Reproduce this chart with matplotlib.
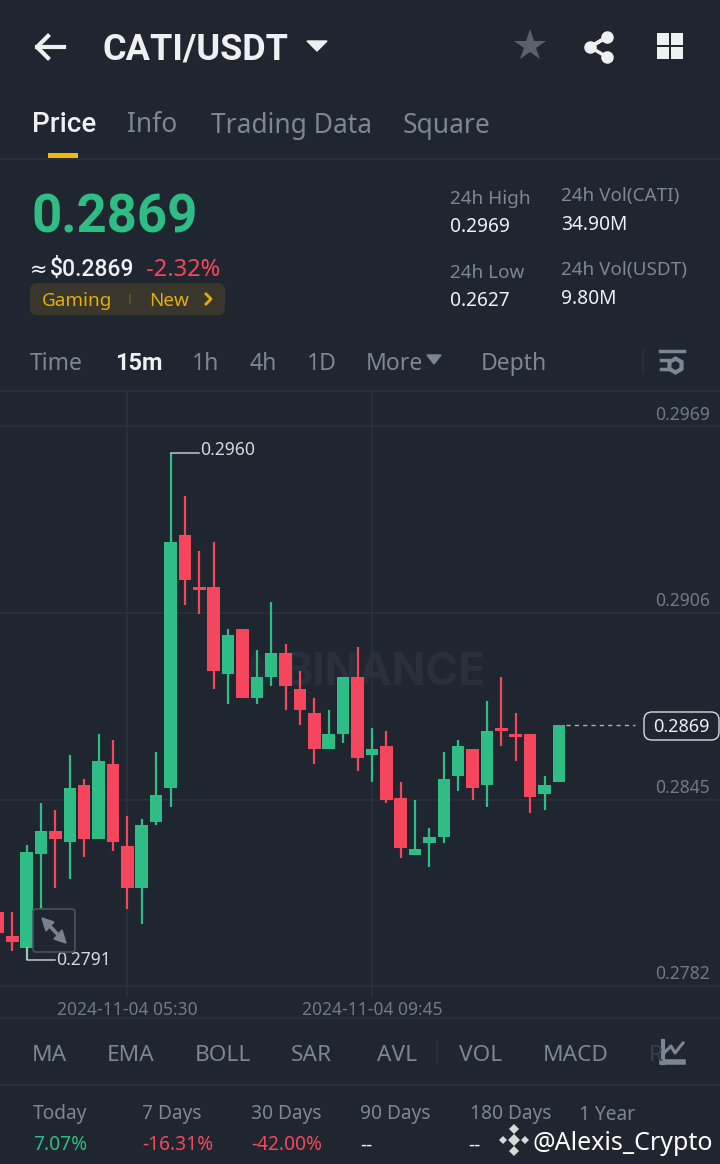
import matplotlib
matplotlib.use("Agg")
import matplotlib.pyplot as plt
from matplotlib.patches import FancyBboxPatch, Rectangle
from matplotlib.transforms import ScaledTranslation

# candles (15m)
opens = [0.28066, 0.27986, 0.27945, 0.28260, 0.28338, 0.28300, 0.28490, 0.28310, 0.28560, 0.28286,
         0.28146, 0.28367, 0.28480, 0.29326, 0.29152, 0.29152, 0.28861, 0.29012, 0.28781, 0.28851,
         0.28931, 0.28811, 0.28731, 0.28611, 0.28661, 0.28851, 0.28590, 0.28621, 0.28447, 0.28256,
         0.28296, 0.28316, 0.28520, 0.28611, 0.28490, 0.28681, 0.28661, 0.28661, 0.28460, 0.28500]
highs = [0.28066, 0.28066, 0.28290, 0.28430, 0.28407, 0.28590, 0.28510, 0.28661, 0.28641, 0.28387,
         0.28377, 0.28601, 0.29600, 0.29456, 0.29272, 0.29302, 0.29012, 0.29012, 0.28941, 0.29102,
         0.28961, 0.28871, 0.28781, 0.28741, 0.28851, 0.28951, 0.28681, 0.28671, 0.28500, 0.28440,
         0.28347, 0.28601, 0.28641, 0.28611, 0.28771, 0.28851, 0.28731, 0.28661, 0.28520, 0.28690]
lows = [0.27996, 0.27935, 0.27905, 0.28076, 0.28146, 0.28176, 0.28250, 0.28310, 0.28270, 0.28076,
        0.28026, 0.28357, 0.28417, 0.29092, 0.29062, 0.28811, 0.28761, 0.28781, 0.28761, 0.28821,
        0.28741, 0.28691, 0.28560, 0.28611, 0.28631, 0.28537, 0.28500, 0.28430, 0.28246, 0.28256,
        0.28216, 0.28296, 0.28470, 0.28440, 0.28417, 0.28621, 0.28570, 0.28397, 0.28407, 0.28500]
closes = [0.27996, 0.27966, 0.28267, 0.28338, 0.28310, 0.28480, 0.28310, 0.28570, 0.28300, 0.28146,
          0.28357, 0.28457, 0.29302, 0.29175, 0.29142, 0.28871, 0.28992, 0.28781, 0.28851, 0.28931,
          0.28821, 0.28741, 0.28611, 0.28661, 0.28851, 0.28580, 0.28611, 0.28440, 0.28280, 0.28276,
          0.28316, 0.28510, 0.28621, 0.28480, 0.28671, 0.28671, 0.28651, 0.28450, 0.28490, 0.28690]

price_ticks = [0.29690, 0.29066, 0.28442, 0.27820]
price_labels = ["0.2969", "0.2906", "0.2845", "0.2782"]
time_ticks = [9, 26]
time_labels = ["2024-11-04 05:30", "2024-11-04 09:45"]

tabs = ["Info", "Trading Data", "Square"]
intervals = ["Time", "1h", "4h", "1D", "More", "Depth"]
indicators = ["MA", "EMA", "BOLL", "SAR", "AVL", "VOL", "MACD"]
periods = ["Today", "7 Days", "30 Days", "90 Days", "180 Days", "1 Year"]
period_values = ["7.07%", "-16.31%", "-42.00%", "--", "--"]

BG = "#1f2630"
GREEN = "#2ebd85"
RED = "#f6465d"
GREY = "#7c8695"
LINE = "#2b323d"
YELLOW = "#e3ae0a"
WHITE = "#eef0f2"

plt.rcParams["font.family"] = ["Noto Sans", "DejaVu Sans"]

fig = plt.figure(figsize=(7.2, 11.64), dpi=100, facecolor=BG)

# chart axes, pixel rows 392 to 997
ax = fig.add_axes([0, (1164 - 997) / 1164, 1, (997 - 392) / 1164], facecolor=BG)
ax.set_xlim(0.146, 50.2)
ax.set_ylim(0.27782, 0.29804)
for s in ax.spines.values():
    s.set_visible(False)

# overlay for the app screen around the chart, in pixels
ui = fig.add_axes([0, 0, 1, 1], facecolor="none")
ui.set_xlim(0, 720)
ui.set_ylim(1164, 0)
ui.axis("off")


def put(x, y, s, **kw):
    # noto sits a bit high with va=center
    kw.setdefault("va", "center")
    return ui.text(x, y + 4.5, s, **kw)


ax.set_yticks(price_ticks, price_labels)
ax.yaxis.tick_right()
ax.tick_params(axis="y", length=0, pad=-7.2, labelsize=12.6, labelcolor="#6f7987")
for lab in ax.get_yticklabels():
    lab.set_ha("right")
    lab.set_va("center")
    lab.set_transform(lab.get_transform() + ScaledTranslation(0, 11.5 / 100, fig.dpi_scale_trans))
ax.set_xticks(time_ticks, time_labels)
ax.tick_params(axis="x", length=0, pad=3, labelsize=12.5, labelcolor="#6f7987")
ax.grid(True, color=LINE, linewidth=1.2)
ax.set_axisbelow(True)

# faint watermark goes under the candles
ax.text(384, 673, "BINANCE", transform=ui.transData, fontsize=32, fontweight="bold", color="#2a303b",
        ha="center", va="center", family="Inter", zorder=0.5)
ax.plot([256], [673], marker="D", ms=20, color="#262c37", transform=ui.transData, zorder=0.5, clip_on=False)

x = list(range(len(opens)))
colors = [GREEN if c >= o else RED for o, c in zip(opens, closes)]
bottoms = [min(o, c) for o, c in zip(opens, closes)]
heights = [abs(c - o) for o, c in zip(opens, closes)]
ax.vlines(x, lows, highs, colors=colors, linewidth=1.6, zorder=3)
ax.bar(x, heights, bottom=bottoms, width=0.87, color=colors, zorder=4)

# high and low markers
ax.plot([12, 14], [0.2960, 0.2960], color="#c4c8cd", linewidth=1.1, zorder=5)
ax.annotate("0.2960", (14.05, 0.2960), xytext=(0, 2), textcoords="offset points", color="#d5d8dc",
            fontsize=12.6, va="center", zorder=5)
ax.plot([2, 2, 4], [0.27945, 0.27905, 0.27905], color="#c4c8cd", linewidth=1.1, zorder=5)
ax.text(4.05, 0.27905, "0.2791", color="#d5d8dc", fontsize=12.6, va="center", zorder=5)

# last price
ax.plot([39.5, 44.3], [closes[-1], closes[-1]], color="#aab0b8", linewidth=1, linestyle=(0, (3, 3)), zorder=5)
ui.add_patch(FancyBboxPatch((644, 712), 75, 28, boxstyle="round,pad=0,rounding_size=8", fc=BG, ec="#d8dbdf", lw=1))
put(681, 722, "0.2869", color=WHITE, fontsize=13, ha="center")

# expand button over the chart
ui.add_patch(FancyBboxPatch((33, 909), 42, 43, boxstyle="round,pad=0,rounding_size=3", fc=BG, ec="#4b525e", lw=1.2))
ui.fill([42, 54, 46], [918, 922, 931], color="#79818e")
ui.fill([66, 54, 62], [943, 939, 930], color="#79818e")
ui.plot([46, 62], [922, 939], color="#79818e", linewidth=2.6)

for y in [159, 391, 1018, 1085]:
    ui.plot([0, 720], [y, y], color=LINE, linewidth=1.2)

# header
ui.plot([37, 64], [47, 47], color=WHITE, linewidth=3)
ui.plot([48, 37, 48], [36, 47, 58], color=WHITE, linewidth=3)
ui.text(103, 49, "CATI/USDT", color=WHITE, fontsize=26, fontweight="bold", family="Roboto", va="center")
ui.fill([307, 327, 317], [41, 41, 51], color=WHITE)
ui.plot([530], [46], marker="*", ms=24, color="#59616e", mew=0)
ui.plot([590, 607, 590, 607], [47, 37, 47, 57], color=WHITE, linewidth=2.5)
ui.plot([590, 607, 607], [47, 37, 57], "o", ms=8, color=WHITE)
for gx, gy in [(657, 33), (671, 33), (657, 47), (671, 47)]:
    ui.add_patch(Rectangle((gx, gy), 12, 12, fc=WHITE, ec="none"))

# tabs
ui.text(32, 124, "Price", color=WHITE, fontsize=20, fontweight="medium", family="Roboto", va="center")
for label, tx in zip(tabs, [127, 211, 403]):
    put(tx, 121, label, color=GREY, fontsize=19)
ui.add_patch(Rectangle((48, 153), 30, 5, fc="#f0b90b", ec="none"))

# price block
ui.text(31, 218, "0.2869", color=GREEN, fontsize=38, fontweight="bold", family="Roboto", va="center")
put(30, 266, "≈", color=WHITE, fontsize=15)
ui.text(50, 269, "$0.2869", color=WHITE, fontsize=16.5, fontweight="medium", family="Roboto", va="center")
put(146, 265, "-2.32%", color=RED, fontsize=17)
ui.add_patch(FancyBboxPatch((30, 283), 195, 32, boxstyle="round,pad=0,rounding_size=7", fc="#39362b", ec="none"))
put(42, 297, "Gaming", color=YELLOW, fontsize=13.6)
put(149, 297, "New", color=YELLOW, fontsize=13.6)
ui.plot([130, 130], [295, 303], color="#5f5734", linewidth=1.2)
ui.plot([206, 211, 206], [294, 299, 304], color=YELLOW, linewidth=2)

# 24h stats
for label, value, tx, y1, y2 in [("24h High", "0.2969", 450, 194, 223), ("24h Low", "0.2627", 450, 268, 296),
                                 ("24h Vol(CATI)", "34.90M", 561, 192, 221), ("24h Vol(USDT)", "9.80M", 561, 266, 294)]:
    put(tx, y1, label, color=GREY, fontsize=13.6)
    put(tx, y2, value, color=WHITE, fontsize=13.8)

# interval row
ui.text(115, 363, "15m", color=WHITE, fontsize=17, fontweight="bold", family="Roboto", va="center")
for label, tx in zip(intervals, [30, 192, 249, 307, 366, 481]):
    put(tx, 360, label, color=GREY, fontsize=16.5)
ui.fill([427, 441, 434], [355, 355, 364], color=GREY)
ui.plot([643, 643], [350, 373], color=LINE, linewidth=1.2)
ui.plot([660, 684], [351, 351], color=GREY, linewidth=2.5)
ui.plot([661, 668], [360, 360], color=GREY, linewidth=2.5)
ui.plot([661, 668], [369, 369], color=GREY, linewidth=2.5)
ui.plot([675], [365], marker="h", ms=10, mfc=BG, mec=GREY, mew=3)

# indicator row
for label, tx in zip(indicators, [32, 107, 195, 291, 377, 459, 543]):
    put(tx, 1051, label, color=GREY, fontsize=16.3)
faded = put(649, 1051, "R", color="#39414d", fontsize=16.3)
faded.set_clip_path(Rectangle((640, 1030), 17, 40, transform=ui.transData))
ui.plot([437, 437], [1041, 1063], color=LINE, linewidth=1.2)
ui.plot([663, 663], [1041, 1063], color=GREY, linewidth=3)
ui.plot([662, 683], [1062, 1062], color=GREY, linewidth=4)
ui.plot([664, 671, 675, 683], [1053, 1046, 1053, 1043], color=GREY, linewidth=2.2)

# returns row
for label, tx in zip(periods, [33, 142, 251, 360, 470, 579]):
    put(tx, 1110, label, color=GREY, fontsize=13.8)
for value, tx, col in zip(period_values, [33, 142, 251, 360, 468], [GREEN, RED, RED, WHITE, WHITE]):
    put(tx, 1141, value, color=col, fontsize=13.8)

# watermark of the poster
for lx, ly, ms in [(514, 1140, 6), (503, 1140, 4), (525, 1140, 4), (514, 1129, 5), (514, 1151, 5)]:
    ui.plot([lx], [ly], marker="D", ms=ms, color="#d8d8d8", mew=0)
put(532, 1139, "@Alexis_Crypto", color="#ffffff", fontsize=18)

fig.savefig("out.png", dpi=100, facecolor=BG)
